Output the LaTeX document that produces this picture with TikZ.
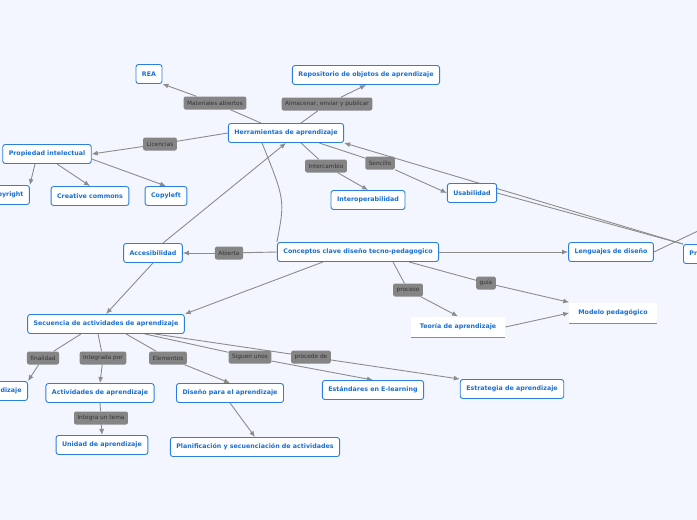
\documentclass[tikz,border=0pt]{standalone}
\usepackage{fontspec}
\setmainfont{DejaVu Sans}
\usetikzlibrary{arrows.meta}
\pgfdeclarelayer{bottom}
\pgfdeclarelayer{edges}
\pgfsetlayers{bottom,edges,main}
\definecolor{bg}{HTML}{F3F6FE}
\definecolor{nb}{HTML}{2A7FE0}
\definecolor{nt}{HTML}{1A6FD0}
\definecolor{lb}{HTML}{858585}
\definecolor{ln}{HTML}{8C8C8C}
\tikzset{
 box/.style={draw=nb,line width=0.9pt,fill=white,rounded corners=2.5pt,minimum height=19pt,inner xsep=6pt,font=\fontsize{6.3}{7}\selectfont\bfseries,text=nt},
 plain/.style={fill=white,minimum height=21pt,inner xsep=9pt,font=\fontsize{6.3}{7}\selectfont\bfseries,text=nt,append after command={(\tikzlastnode.south west) edge[draw=ln,line width=0.8pt] (\tikzlastnode.south east)}},
 lbl/.style={fill=lb,rounded corners=2pt,minimum height=13pt,inner xsep=3.5pt,font=\fontsize{5.8}{6}\selectfont,text=black!80},
 con/.style={draw=ln,line width=0.9pt},
 arr/.style={con,-{Latex[length=6pt,width=5pt]}}
}
\begin{document}
\begin{tikzpicture}[x=1pt,y=-1pt]
\begin{pgfonlayer}{bottom}
\fill[bg] (0,0) rectangle (697,520);
\end{pgfonlayer}
\useasboundingbox (0,0) rectangle (697,520);
\clip (0,0) rectangle (697,520);
% nodes
\node[box] (rea) at (149,74) {REA};
\node[box] (rep) at (366,75) {Repositorio de objetos de aprendizaje};
\node[box] (her) at (286,133) {Herramientas de aprendizaje};
\node[box] (pro) at (47,154) {Propiedad intelectual};
\node[box] (cpr) at (6,195) {Copyright};
\node[box] (cc) at (90,196) {Creative commons};
\node[box] (cpl) at (166,196) {Copyleft};
\node[box] (int) at (368,200) {Interoperabilidad};
\node[box] (usa) at (472,193) {Usabilidad};
\node[box] (acc) at (153,253) {Accesibilidad};
\node[box] (con) at (358,252) {Conceptos clave diseño tecno-pedagogico};
\node[box] (len) at (611,252) {Lenguajes de diseño};
\node[box,anchor=west] (pp) at (683,254) {Principios};
\node[plain] (mod) at (613,313) {Modelo pedagógico};
\node[plain] (teo) at (458,327) {Teoría de aprendizaje};
\node[box] (sec) at (106,324) {Secuencia de actividades de aprendizaje};
\node[box,anchor=east] (obj) at (28,391) {Objetivos de aprendizaje};
\node[box] (act) at (100,393) {Actividades de aprendizaje};
\node[box] (dis) at (230,393) {Diseño para el aprendizaje};
\node[box] (est) at (373,390) {Estándares en E-learning};
\node[box] (esg) at (512,389) {Estrategia de aprendizaje};
\node[box] (uni) at (102,445) {Unidad de aprendizaje};
\node[box] (pla) at (255,447) {Planificación y secuenciación de actividades};
\coordinate (off) at (700,230);
% labels
\node[lbl] (l1) at (215,103) {Materiales abiertos};
\node[lbl] (l2) at (327,104) {Almacenar, enviar y publicar};
\node[lbl] (l3) at (160,144) {Licencias};
\node[lbl] (l4) at (326,166) {Intercambio};
\node[lbl] (l5) at (380,163) {Sencillo};
\node[lbl] (l6) at (229,253) {Abierta};
\node[lbl] (l7) at (408,290) {proceso};
\node[lbl] (l8) at (486,283) {guía};
\node[lbl] (l9) at (43,358) {finalidad};
\node[lbl] (l10) at (103,358) {Integrada por};
\node[lbl] (l11) at (168,358) {Elementos};
\node[lbl] (l12) at (250,357) {Siguen unos};
\node[lbl] (l13) at (311,357) {procede de};
\node[lbl] (l14) at (101,418) {Integra un tema};
% connectors
\begin{pgfonlayer}{edges}
\draw[con] (her.north) ++(-25,0) -- (l1);
\draw[arr] (l1) -- (rea.south east);
\draw[con] (her.north) ++(15,0) -- (l2);
\draw[arr] (l2) -- (rep.south);
\draw[con] (her.west) -- (l3);
\draw[arr] (l3) -- (pro.east);
\draw[con] (her.south) ++(15,0) -- (l4);
\draw[arr] (l4) -- (int.north);
\draw[con] (her.south east) ++(-25,0) -- (l5);
\draw[arr] (l5) -- (usa.west);
\draw[arr] (pp.north west) -- (her.south east);
\draw[con] (usa.east) -- (pp.north west);
\draw[con] (len.east) -- (off);
\draw[arr] (pro.south) ++(-12,0) -- (cpr.north east);
\draw[arr] (pro.south) ++(10,0) -- (cc.north);
\draw[arr] (pro.east) ++(0,5) -- (cpl.north);
\draw[con] (her.south) ++(-24,0) .. controls (285,200) .. (con.north west);
\draw[arr] (acc.north) ++(10,0) -- (her.south) ;
\draw[con] (con.west) -- (l6);
\draw[arr] (l6) -- (acc.east);
\draw[arr] (con.east) -- (len.west);
\draw[con] (con.south) ++(35,0) -- (l7);
\draw[arr] (l7) -- (teo.north);
\draw[con] (con.south east) ++(-30,0) -- (l8);
\draw[arr] (l8) -- (mod.north west);
\draw[arr] (teo.east) -- (mod.west);
\draw[arr] (acc.south) -- (sec.north);
\draw[arr] (con.south) ++(-35,0) -- (sec.north east);
\draw[con] (sec.south) ++(-25,0) -- (l9);
\draw[arr] (l9) -- (obj.north east);
\draw[con] (sec.south) ++(-8,0) -- (l10);
\draw[arr] (l10) -- (act.north);
\draw[con] (sec.south) ++(20,0) -- (l11);
\draw[arr] (l11) -- (dis.north);
\draw[con] (sec.south east) ++(-40,0) -- (l12);
\draw[arr] (l12) -- (est.north);
\draw[con] (sec.south east) ++(-30,0) -- (l13);
\draw[arr] (l13) -- (esg.north west);
\draw[con] (act.south) -- (l14);
\draw[arr] (l14) -- (uni.north);
\draw[arr] (dis.south) -- (pla.north);
\end{pgfonlayer}
\end{tikzpicture}
\end{document}
